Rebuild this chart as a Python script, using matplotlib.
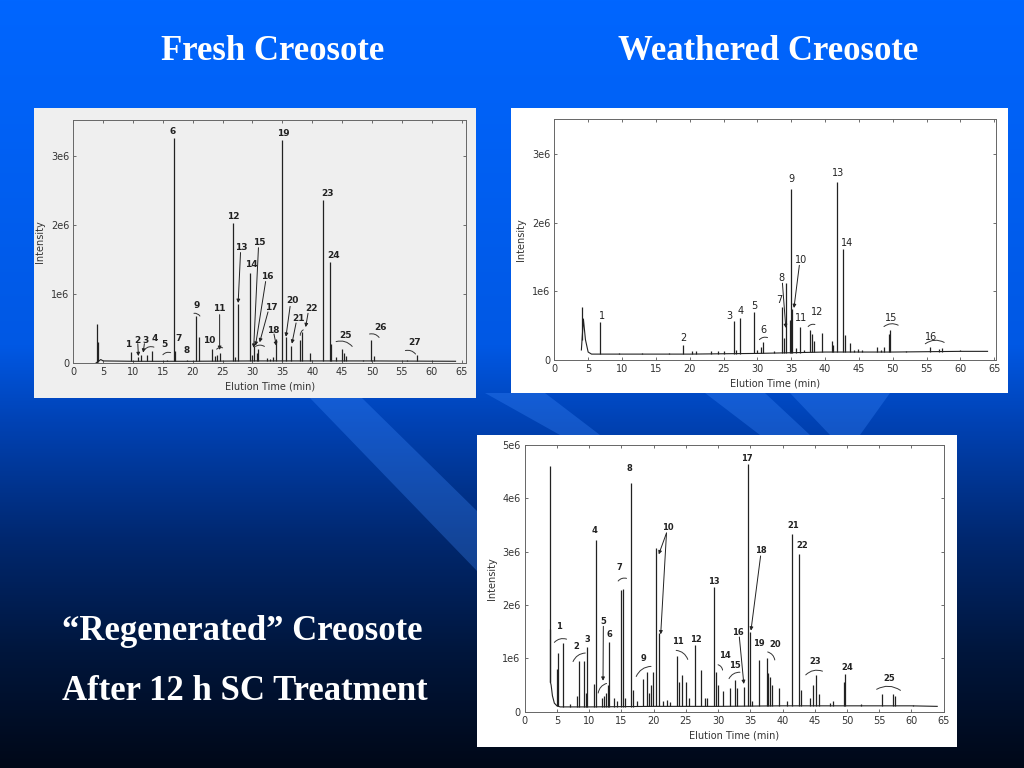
import numpy as np
import matplotlib.pyplot as plt
from matplotlib.patches import Rectangle, Polygon

# ---- Fresh creosote: peaks (min, intensity) ----
fresh_peak_t = [3.9, 4.1, 9.7, 10.8, 11.4, 12.4, 13.2, 15.7, 16.85, 17.1, 19.0,
                20.5, 21.0, 23.3, 23.8, 24.1, 24.5, 26.7, 27.0, 27.6, 29.6, 30.0,
                30.2, 30.7, 30.9, 32.5, 33.0, 33.5, 34.0, 35.0, 35.55, 36.5, 37.9,
                38.3, 39.6, 41.85, 42.9, 43.1, 44.0, 45.0, 45.3, 45.7, 48.5, 49.9,
                50.3, 55.9, 57.6]
fresh_peak_h = [0.56e6, 0.30e6, 0.16e6, 0.08e6, 0.12e6, 0.12e6, 0.17e6, 0.05e6, 3.26e6,
                0.17e6, 0.05e6, 0.68e6, 0.38e6, 0.20e6, 0.10e6, 0.12e6, 0.15e6, 2.03e6,
                0.08e6, 0.85e6, 1.30e6, 0.12e6, 0.25e6, 0.15e6, 0.20e6, 0.07e6, 0.06e6,
                0.08e6, 0.35e6, 3.23e6, 0.38e6, 0.25e6, 0.33e6, 0.45e6, 0.15e6, 2.36e6,
                1.46e6, 0.28e6, 0.08e6, 0.20e6, 0.14e6, 0.10e6, 0.05e6, 0.33e6, 0.10e6,
                0.05e6, 0.12e6]
fresh_base_t = [3.8, 4.6, 5.0, 10, 20, 30, 40, 50, 64]
fresh_base_y = [0.0, 0.05e6, 0.03e6, 0.025e6, 0.025e6, 0.03e6, 0.03e6, 0.03e6, 0.025e6]
fresh_lbl = ['1', '2', '3', '4', '5', '6', '7', '8', '9', '10', '11', '12', '13', '14',
             '15', '16', '17', '18', '19', '20', '21', '22', '23', '24', '25', '26', '27']
fresh_lbl_x = [9.2, 10.7, 12.1, 13.6, 15.3, 16.7, 17.7, 19.0, 20.7, 22.8, 24.5, 26.8, 28.1,
               29.8, 31.2, 32.5, 33.1, 33.4, 35.2, 36.7, 37.7, 39.8, 42.6, 43.6, 45.6,
               51.5, 57.1]
fresh_lbl_y = [0.27e6, 0.33e6, 0.33e6, 0.36e6, 0.27e6, 3.36e6, 0.36e6, 0.18e6, 0.84e6,
               0.33e6, 0.79e6, 2.12e6, 1.68e6, 1.42e6, 1.74e6, 1.25e6, 0.81e6, 0.47e6,
               3.32e6, 0.90e6, 0.65e6, 0.79e6, 2.46e6, 1.55e6, 0.40e6, 0.51e6, 0.30e6]
fresh_arrows = [(10.8, 0.28e6, 10.9, 0.10e6), (11.9, 0.28e6, 11.7, 0.15e6),
                (24.5, 0.70e6, 24.5, 0.19e6), (28.0, 1.60e6, 27.6, 0.87e6),
                (31.0, 1.67e6, 30.2, 0.22e6), (32.2, 1.18e6, 30.5, 0.25e6),
                (32.6, 0.74e6, 31.2, 0.30e6), (33.6, 0.42e6, 34.0, 0.25e6),
                (36.3, 0.82e6, 35.6, 0.38e6), (37.3, 0.58e6, 36.6, 0.28e6),
                (39.3, 0.72e6, 38.9, 0.52e6)]
fresh_brackets = [(12.0, 0.20e6, 13.5, 0.23e6), (15.0, 0.12e6, 16.3, 0.15e6),
                  (20.2, 0.72e6, 21.2, 0.68e6), (24.0, 0.20e6, 25.0, 0.22e6),
                  (30.5, 0.24e6, 32.0, 0.24e6), (38.0, 0.40e6, 38.5, 0.48e6),
                  (44.0, 0.31e6, 46.7, 0.24e6), (49.6, 0.42e6, 51.2, 0.37e6),
                  (55.6, 0.18e6, 57.3, 0.13e6)]

# ---- Weathered creosote ----
weath_peak_t = [4.1, 6.8, 9.5, 13.0, 17.0, 19.0, 20.3, 21.0, 23.2, 24.2, 25.0, 26.6,
                26.9, 27.5, 29.5, 30.0, 30.5, 30.9, 32.5, 33.7, 34.0, 34.3, 34.8, 34.9,
                35.1, 35.7, 36.3, 36.9, 37.7, 38.1, 38.3, 39.5, 41.0, 41.2, 41.7, 42.7,
                42.9, 43.7, 44.2, 44.8, 45.5, 47.7, 48.3, 48.7, 49.4, 49.6, 52.0, 55.5,
                56.9, 57.2, 60.0]
weath_peak_h = [0.77e6, 0.56e6, 0.11e6, 0.11e6, 0.11e6, 0.22e6, 0.14e6, 0.13e6, 0.14e6,
                0.14e6, 0.13e6, 0.57e6, 0.15e6, 0.61e6, 0.70e6, 0.15e6, 0.20e6, 0.27e6,
                0.14e6, 0.77e6, 0.32e6, 1.12e6, 0.58e6, 2.49e6, 0.75e6, 0.18e6, 0.49e6,
                0.15e6, 0.44e6, 0.38e6, 0.28e6, 0.40e6, 0.28e6, 0.22e6, 2.59e6, 1.62e6,
                0.37e6, 0.25e6, 0.15e6, 0.16e6, 0.15e6, 0.20e6, 0.15e6, 0.20e6, 0.38e6,
                0.44e6, 0.14e6, 0.19e6, 0.17e6, 0.18e6, 0.15e6]
weath_base_t = [4.0, 4.3, 4.6, 5.0, 5.5, 10, 20, 30, 40, 50, 60, 64]
weath_base_y = [0.15e6, 0.60e6, 0.30e6, 0.12e6, 0.09e6, 0.09e6, 0.09e6, 0.10e6,
                0.12e6, 0.12e6, 0.13e6, 0.13e6]
weath_lbl = ['1', '2', '3', '4', '5', '6', '7', '8', '9', '10', '11', '12', '13', '14',
             '15', '16']
weath_lbl_x = [7.0, 19.0, 25.9, 27.5, 29.6, 30.9, 33.3, 33.5, 35.0, 36.4, 36.5, 38.8,
               41.85, 43.2, 49.7, 55.7]
weath_lbl_y = [0.64e6, 0.33e6, 0.65e6, 0.71e6, 0.79e6, 0.44e6, 0.87e6, 1.20e6, 2.63e6,
               1.46e6, 0.61e6, 0.70e6, 2.72e6, 1.70e6, 0.62e6, 0.34e6]
weath_arrows = [(33.7, 1.12e6, 34.2, 0.47e6), (36.2, 1.38e6, 35.4, 0.76e6)]
weath_brackets = [(30.3, 0.30e6, 31.5, 0.33e6), (37.5, 0.49e6, 38.5, 0.52e6),
                  (48.7, 0.49e6, 50.8, 0.51e6), (54.8, 0.24e6, 57.6, 0.26e6)]

# ---- Regenerated creosote ----
regen_peak_t = [3.9, 4.0, 5.0, 5.2, 6.0, 7.1, 8.1, 8.4, 9.15, 9.5, 9.7, 10.7, 11.1,
                12.0, 12.3, 12.6, 12.9, 13.1, 13.8, 14.3, 15.0, 15.25, 15.6, 16.5,
                16.75, 17.5, 18.3, 18.9, 19.3, 19.6, 19.9, 20.3, 20.9, 21.5, 22.0,
                22.6, 23.6, 23.9, 24.4, 25.0, 25.5, 26.4, 27.3, 28.0, 28.3, 29.3,
                29.7, 30.0, 30.7, 31.9, 32.6, 32.9, 34.0, 34.65, 34.9, 35.3, 36.3,
                37.65, 37.8, 38.1, 38.3, 39.5, 40.7, 41.5, 42.6, 42.8, 44.2, 44.8,
                45.2, 45.6, 47.4, 47.8, 49.6, 49.7, 52.1, 55.5, 57.1, 57.4, 60.3]
regen_peak_h = [4.61e6, 1.55e6, 0.80e6, 1.10e6, 1.28e6, 0.15e6, 0.30e6, 0.95e6, 0.95e6,
                0.35e6, 1.22e6, 0.52e6, 3.22e6, 0.25e6, 0.30e6, 0.35e6, 0.50e6, 1.31e6,
                0.25e6, 0.20e6, 2.28e6, 2.30e6, 0.25e6, 4.28e6, 0.40e6, 0.20e6, 0.62e6,
                0.75e6, 0.35e6, 0.50e6, 0.75e6, 3.07e6, 1.47e6, 0.20e6, 0.22e6, 0.18e6,
                1.05e6, 0.55e6, 0.68e6, 0.55e6, 0.25e6, 1.25e6, 0.78e6, 0.25e6, 0.25e6,
                2.34e6, 0.75e6, 0.50e6, 0.38e6, 0.45e6, 0.60e6, 0.45e6, 0.47e6, 4.64e6,
                1.50e6, 0.20e6, 0.97e6, 1.00e6, 0.72e6, 0.65e6, 0.50e6, 0.45e6, 0.20e6,
                3.33e6, 2.96e6, 0.40e6, 0.25e6, 0.50e6, 0.68e6, 0.33e6, 0.17e6, 0.20e6,
                0.55e6, 0.70e6, 0.15e6, 0.33e6, 0.33e6, 0.30e6, 0.13e6]
regen_base_t = [4.0, 4.1, 4.3, 4.6, 5.0, 5.5, 10, 20, 30, 40, 50, 60, 64]
regen_base_y = [0.55e6, 0.50e6, 0.30e6, 0.16e6, 0.11e6, 0.09e6, 0.09e6, 0.10e6,
                0.10e6, 0.11e6, 0.11e6, 0.11e6, 0.10e6]
regen_lbl = ['1', '2', '3', '4', '5', '6', '7', '8', '9', '10', '11', '12', '13', '14',
             '15', '16', '17', '18', '19', '20', '21', '22', '23', '24', '25']
regen_lbl_x = [5.3, 8.0, 9.7, 10.8, 12.2, 13.2, 14.7, 16.3, 18.5, 22.2, 23.8, 26.5, 29.3,
               31.0, 32.6, 33.1, 34.5, 36.7, 36.35, 38.8, 41.6, 43.1, 45.0, 50.0, 56.5]
regen_lbl_y = [1.60e6, 1.22e6, 1.36e6, 3.40e6, 1.69e6, 1.44e6, 2.70e6, 4.56e6, 1.00e6,
               3.45e6, 1.31e6, 1.36e6, 2.45e6, 1.06e6, 0.86e6, 1.49e6, 4.75e6, 3.02e6,
               1.27e6, 1.26e6, 3.49e6, 3.11e6, 0.94e6, 0.83e6, 0.62e6]
regen_arrows = [(12.2, 1.60e6, 12.15, 0.58e6), (22.0, 3.35e6, 20.8, 2.95e6),
                (22.0, 3.35e6, 21.1, 1.45e6), (33.3, 1.40e6, 34.0, 0.52e6),
                (36.6, 2.92e6, 35.1, 1.52e6)]
regen_brackets = [(4.6, 1.30e6, 6.5, 1.36e6), (7.5, 0.94e6, 9.4, 1.10e6),
                  (11.4, 0.35e6, 12.7, 0.53e6), (14.5, 2.45e6, 15.8, 2.50e6),
                  (17.3, 0.66e6, 19.6, 0.85e6), (23.5, 1.15e6, 25.3, 0.98e6),
                  (30.0, 0.88e6, 30.7, 0.78e6), (31.7, 0.62e6, 33.4, 0.74e6),
                  (37.7, 1.12e6, 38.8, 0.97e6), (43.6, 0.69e6, 46.2, 0.76e6),
                  (54.6, 0.42e6, 58.3, 0.40e6)]

xticks = [0, 5, 10, 15, 20, 25, 30, 35, 40, 45, 50, 55, 60, 65]
yticks_35 = [0, 1e6, 2e6, 3e6]
ylabels_35 = ['0', '1e6', '2e6', '3e6']
yticks_5 = [0, 1e6, 2e6, 3e6, 4e6, 5e6]
ylabels_5 = ['0', '1e6', '2e6', '3e6', '4e6', '5e6']


def draw_chrom(ax, pt, ph, bt, by, lbl, lx, ly, arrows, brackets,
               xmax, ymax, yticks, ylabels, bold, lblsize):
    base_at = np.interp(pt, bt, by)
    ax.plot(bt, by, color='#222222', lw=0.8)
    ax.vlines(pt, base_at, ph, color='#222222', lw=0.9)
    for s, x, y in zip(lbl, lx, ly):
        ax.text(x, y, s, ha='center', va='center', fontsize=lblsize,
                fontweight='bold' if bold else 'normal', color='#222222')
    for x0, y0, x1, y1 in arrows:
        ax.annotate('', xy=(x1, y1), xytext=(x0, y0),
                    arrowprops=dict(arrowstyle='-|>', color='#222222', lw=0.7,
                                    mutation_scale=5, shrinkA=0, shrinkB=0))
    for x0, y0, x1, y1 in brackets:
        ax.annotate('', xy=(x1, y1), xytext=(x0, y0),
                    arrowprops=dict(arrowstyle='-', color='#333333', lw=0.7,
                                    connectionstyle='arc3,rad=-0.3',
                                    shrinkA=0, shrinkB=0))
    ax.set_xlim(0, xmax)
    ax.set_ylim(0, ymax)
    ax.set_xticks(xticks)
    ax.set_yticks(yticks)
    ax.set_yticklabels(ylabels)
    ax.tick_params(direction='in', length=2.5, width=0.6, labelsize=7,
                   colors='#555555', labelcolor='#333333', top=True, right=True, pad=3)
    ax.set_xlabel('Elution Time (min)', fontsize=7, color='#333333', labelpad=3)
    ax.set_ylabel('Intensity', fontsize=7, color='#333333', labelpad=4)
    for sp in ax.spines.values():
        sp.set_color('#666666')
        sp.set_linewidth(0.7)


fig = plt.figure(figsize=(10.24, 7.68), dpi=100)

# slide background: vertical blue gradient with light diagonal stripes
bg = fig.add_axes([0, 0, 1, 1], zorder=-5)
stops_y = [0.0, 0.45, 0.55, 0.70, 0.85, 1.0]
stops_c = np.array([[0, 102, 255], [0, 88, 228], [0, 66, 180], [0, 40, 112],
                    [0, 22, 60], [0, 8, 24]]) / 255.0
yy = np.linspace(0, 1, 400)
grad = np.stack([np.interp(yy, stops_y, stops_c[:, k]) for k in range(3)], axis=-1)
bg.imshow(grad[:, None, :], extent=[0, 1024, 768, 0], aspect='auto')
stripes = [
    [(310, 398), (362, 398), (478, 512), (478, 572)],
    [(485, 393), (545, 393), (600, 435), (560, 435)],
    [(705, 393), (765, 393), (810, 435), (760, 435)],
    [(790, 393), (890, 393), (860, 435), (830, 435)],
]
for pts in stripes:
    bg.add_patch(Polygon(pts, closed=True, facecolor='#3f8cff', alpha=0.3, lw=0))

# panel cards (pixel coords)
bg.add_patch(Rectangle((34, 108), 442, 290, facecolor='#efefef', lw=0))
bg.add_patch(Rectangle((511, 108), 497, 285, facecolor='white', lw=0))
bg.add_patch(Rectangle((477, 435), 480, 312, facecolor='white', lw=0))
bg.set_xlim(0, 1024)
bg.set_ylim(768, 0)
bg.axis('off')

ax1 = fig.add_axes([73.3 / 1024, 1 - 363 / 768, 393 / 1024, 243 / 768])
ax1.set_facecolor('#efefef')
draw_chrom(ax1, fresh_peak_t, fresh_peak_h, fresh_base_t, fresh_base_y,
           fresh_lbl, fresh_lbl_x, fresh_lbl_y, fresh_arrows, fresh_brackets,
           65.8, 3.52e6, yticks_35, ylabels_35, True, 6.5)

ax2 = fig.add_axes([554.3 / 1024, 1 - 360.3 / 768, 441.7 / 1024, 241.6 / 768])
ax2.set_facecolor('white')
draw_chrom(ax2, weath_peak_t, weath_peak_h, weath_base_t, weath_base_y,
           weath_lbl, weath_lbl_x, weath_lbl_y, weath_arrows, weath_brackets,
           65.25, 3.51e6, yticks_35, ylabels_35, False, 7)

ax3 = fig.add_axes([524.7 / 1024, 1 - 711.7 / 768, 419.6 / 1024, 266.7 / 768])
ax3.set_facecolor('white')
draw_chrom(ax3, regen_peak_t, regen_peak_h, regen_base_t, regen_base_y,
           regen_lbl, regen_lbl_x, regen_lbl_y, regen_arrows, regen_brackets,
           65.1, 5e6, yticks_5, ylabels_5, True, 6)

# slide text
tkw = dict(color='white', fontsize=25, fontweight='bold', family='Liberation Serif')
fig.text(273 / 1024, 1 - 52 / 768, 'Fresh Creosote', ha='center', va='center', **tkw)
fig.text(768 / 1024, 1 - 52 / 768, 'Weathered Creosote', ha='center', va='center', **tkw)
fig.text(62 / 1024, 1 - 632 / 768, '\u201cRegenerated\u201d Creosote', ha='left',
         va='center', **tkw)
fig.text(62 / 1024, 1 - 692 / 768, 'After 12 h SC Treatment', ha='left',
         va='center', **tkw)

fig.savefig('out.png', dpi=100)
